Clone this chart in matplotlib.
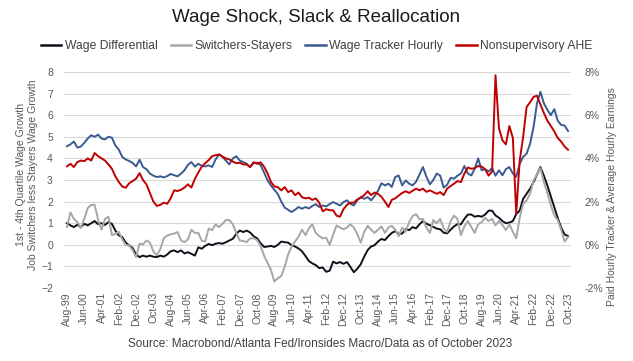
import pandas as pd
import numpy as np
import matplotlib
matplotlib.use('Agg')
import matplotlib.pyplot as plt
from matplotlib.lines import Line2D
from matplotlib.ticker import FuncFormatter

plt.rcParams['font.family'] = ['Liberation Sans', 'DejaVu Sans']

# bi-monthly readings, Aug-99 .. Oct-23
dates = pd.date_range('1999-08-01', periods=146, freq='2MS')

# 1st - 4th quartile wage growth differential (left axis)
wage_diff = [
    1.0, 0.9, 0.82, 0.93, 0.82, 0.97, 0.9, 1.0, 1.1, 0.95, 1.0, 0.92, 1.05, 0.97, 0.66, 0.43,
    0.36, 0.1, -0.03, -0.15, -0.45, -0.57, -0.5, -0.55, -0.5, -0.55, -0.57, -0.5, -0.55, -0.45,
    -0.3, -0.26, -0.34, -0.26, -0.4, -0.34, -0.42, -0.5, -0.12, -0.18, -0.05, 0.04, -0.02, 0.05,
    0.08, 0.05, 0.12, 0.2, 0.28, 0.51, 0.66, 0.59, 0.66, 0.57, 0.4, 0.3, 0.08, -0.1, -0.08, -0.05,
    -0.1, 0.0, 0.15, 0.12, 0.1, -0.02, -0.08, -0.17, -0.3, -0.52, -0.75, -0.86, -0.94, -1.08,
    -1.05, -1.25, -1.2, -0.78, -0.86, -0.8, -0.88, -0.8, -1.02, -1.27, -1.11, -0.9, -0.55, -0.24,
    -0.08, -0.02, 0.15, 0.27, 0.22, 0.4, 0.55, 0.63, 0.5, 0.52, 0.72, 0.68, 0.82, 0.76, 0.95,
    1.1, 0.98, 0.9, 0.82, 0.75, 0.72, 0.56, 0.53, 0.7, 0.85, 0.96, 0.95, 1.2, 1.4, 1.4, 1.3,
    1.34, 1.3, 1.4, 1.58, 1.58, 1.36, 1.25, 1.1, 1.0, 1.03, 1.1, 1.42, 1.58, 2.13, 2.36, 2.6,
    2.9, 3.25, 3.6, 3.2, 2.75, 2.25, 1.75, 1.25, 0.8, 0.48, 0.4,
]

# job switchers less stayers wage growth (left axis)
switchers = [
    0.82, 1.5, 1.2, 1.05, 0.78, 1.2, 1.7, 1.85, 1.85, 1.15, 0.7, 1.2, 1.3, 0.45, 0.5, 0.6,
    0.25, 0.0, -0.03, -0.25, -0.57, 0.05, 0.02, 0.2, 0.1, -0.3, -0.48, -0.2, 0.3, 0.43, 0.48,
    0.52, 0.59, 0.2, 0.12, 0.25, 0.7, 0.55, 0.55, 0.18, 0.15, 0.75, 0.68, 0.95, 0.82, 0.97,
    1.15, 1.14, 0.95, 0.55, 0.2, 0.17, 0.13, 0.3, 0.3, 0.22, -0.05, -0.5, -0.82, -1.15, -1.7,
    -1.55, -1.45, -1.0, -0.45, -0.08, 0.15, 0.38, 0.7, 0.45, 0.75, 0.95, 0.55, 0.4, 0.3, 0.33,
    0.0, 0.45, 0.9, 0.8, 0.72, 0.8, 0.95, 0.8, 0.5, 0.1, 0.6, 0.88, 0.7, 0.55, 0.7, 0.85, 0.55,
    0.8, 0.88, 0.7, 0.4, 0.8, 0.6, 1.05, 1.33, 1.42, 1.18, 1.2, 0.8, 0.55, 1.15, 1.0, 1.2,
    0.75, 0.6, 1.1, 1.35, 1.2, 0.45, 0.85, 1.1, 0.82, 0.55, 0.95, 1.05, 1.25, 1.1, 1.2, 0.9,
    1.1, 0.92, 0.68, 0.95, 0.6, 0.3, 1.25, 1.9, 2.05, 2.36, 2.98, 3.25, 3.55, 2.9, 2.4, 1.85,
    1.35, 1.15, 0.7, 0.15, 0.36,
]

# Atlanta Fed wage tracker, hourly paid (right axis, %)
tracker = [
    4.56, 4.65, 4.78, 4.5, 4.55, 4.72, 4.92, 5.07, 5.0, 5.1, 4.92, 4.88, 5.0, 4.96, 4.6, 4.4,
    4.07, 3.95, 3.88, 3.79, 3.63, 3.94, 3.6, 3.5, 3.3, 3.2, 3.14, 3.17, 3.12, 3.18, 3.28, 3.22,
    3.17, 3.3, 3.45, 3.7, 3.83, 3.62, 3.75, 3.65, 3.63, 3.68, 3.6, 3.95, 4.19, 4.07, 3.9, 3.72,
    4.0, 4.1, 3.9, 3.83, 3.75, 3.6, 3.79, 3.8, 3.7, 3.35, 3.0, 2.75, 2.55, 2.35, 2.0, 1.72,
    1.62, 1.52, 1.62, 1.75, 1.67, 1.75, 1.68, 1.8, 1.88, 1.75, 1.82, 1.78, 1.88, 1.98, 1.9,
    1.82, 1.98, 2.06, 1.9, 1.82, 2.06, 2.21, 2.13, 2.21, 2.06, 2.25, 2.5, 2.85, 2.75, 2.83,
    2.68, 3.14, 3.21, 2.75, 2.98, 2.83, 2.75, 2.92, 3.25, 3.6, 3.15, 2.8, 3.0, 3.3, 3.2, 2.65,
    2.78, 3.1, 3.06, 3.2, 3.3, 3.65, 3.3, 3.21, 3.52, 4.0, 3.45, 3.5, 3.4, 3.55, 3.2, 3.45,
    3.22, 3.5, 3.6, 3.3, 3.15, 3.75, 4.07, 4.22, 4.68, 5.46, 6.54, 7.08, 6.55, 6.25, 6.0, 6.28,
    5.75, 5.55, 5.52, 5.27,
]

# average hourly earnings, production & nonsupervisory (right axis, %)
ahe = [
    3.63, 3.75, 3.6, 3.83, 3.9, 3.87, 4.0, 3.9, 4.25, 4.1, 4.0, 3.9, 3.72, 3.52, 3.17, 2.9,
    2.7, 2.64, 2.85, 2.95, 3.06, 3.32, 3.0, 2.8, 2.4, 2.0, 1.8, 1.85, 1.95, 1.9, 2.15, 2.52,
    2.49, 2.55, 2.65, 2.8, 2.65, 3.05, 3.35, 3.62, 3.78, 3.92, 4.1, 4.15, 4.18, 4.08, 4.0,
    3.95, 3.85, 3.78, 3.8, 3.72, 3.72, 3.6, 3.82, 3.75, 3.82, 3.62, 3.32, 2.92, 2.7, 2.67,
    2.52, 2.67, 2.44, 2.52, 2.3, 2.42, 2.2, 2.15, 2.18, 2.08, 2.15, 1.95, 1.55, 1.65, 1.6,
    1.6, 1.35, 1.3, 1.65, 1.85, 1.95, 1.95, 2.1, 2.18, 2.3, 2.48, 2.3, 2.42, 2.36, 2.22, 2.0,
    1.75, 2.08, 2.15, 2.28, 2.4, 2.48, 2.4, 2.5, 2.6, 2.52, 2.6, 2.45, 2.52, 2.44, 2.36, 2.44,
    2.3, 2.6, 2.72, 2.83, 2.95, 2.9, 3.3, 3.58, 3.52, 3.55, 3.65, 3.62, 3.5, 3.2, 3.4, 7.85,
    5.4, 4.84, 4.65, 5.5, 4.95, 1.44, 3.9, 4.99, 6.38, 6.6, 6.85, 6.9, 6.5, 6.1, 5.75, 5.5,
    5.25, 4.95, 4.78, 4.55, 4.4,
]

tick_dates = pd.date_range('1999-08-01', '2023-10-01', freq='10MS')

W, H = 633, 361
fig = plt.figure(figsize=(W / 100, H / 100), dpi=100)
ax = fig.add_axes([64 / W, 1 - 288 / H, (571 - 64) / W, (288 - 72) / H])
ax2 = ax.twinx()

c_black, c_gray, c_blue, c_red = '#10101c', '#a6a6a6', '#3a5a8f', '#c00000'
lw = 1.4

ax.plot(dates, wage_diff, color=c_black, lw=lw)
ax.plot(dates, switchers, color=c_gray, lw=lw)
ax2.plot(dates, tracker, color=c_blue, lw=lw)
ax2.plot(dates, ahe, color=c_red, lw=lw)

pad = pd.Timedelta(days=52)
ax.set_xlim(dates[0] - pad, pd.Timestamp('2023-10-01') + pad)
for a in (ax, ax2):
    a.set_ylim(-2, 8)
    for s in a.spines.values():
        s.set_visible(False)

ax.set_yticks(range(-2, 9))
ax2.set_yticks(range(-2, 9, 2))
ax2.yaxis.set_major_formatter(FuncFormatter(lambda v, p: f'{v:.0f}%'))
ax.set_xticks(tick_dates)
ax.set_xticklabels([d.strftime('%b-%y') for d in tick_dates], rotation=90)

ax.grid(axis='y', color='#d9d9d9', lw=0.8)
ax.set_axisbelow(True)
ax.tick_params(axis='y', length=0, labelsize=7.5, labelcolor='#595959', pad=8)
ax.tick_params(axis='x', length=0, labelsize=7.5, labelcolor='#595959', pad=3)
ax2.tick_params(axis='y', length=0, labelsize=7.5, labelcolor='#595959', pad=10)

fig.text(27 / W, 1 - 175 / H, '1st - 4th Quartile Wage Growth\nJob Switchers less Stayers Wage Growth',
         rotation=90, ha='center', va='center', fontsize=7.5, color='#595959', linespacing=1.2)
fig.text(612 / W, 1 - 197 / H, 'Paid Hourly Tracker & Average Hourly Earnings',
         rotation=90, ha='center', va='center', fontsize=7.5, color='#595959')

fig.text(0.5, 1 - 17 / H, 'Wage Shock, Slack & Reallocation', ha='center', va='center',
         fontsize=13.5, color='#1a1a1a')

handles = [Line2D([], [], color=c, lw=1.8) for c in (c_black, c_gray, c_blue, c_red)]
labels = ['Wage Differential', 'Switchers-Stayers', 'Wage Tracker Hourly', 'Nonsupervisory AHE']
fig.legend(handles, labels, loc='center', bbox_to_anchor=(0.5, 1 - 46 / H), ncol=4, frameon=False,
           fontsize=8.7, handlelength=1.7, handletextpad=0.25, columnspacing=1.1,
           labelcolor='#404040')

fig.text(0.505, 1 - 344 / H, 'Source: Macrobond/Atlanta Fed/Ironsides Macro/Data as of October 2023',
         ha='center', va='center', fontsize=8.5, color='#404040')

fig.savefig('out.png', dpi=100)
